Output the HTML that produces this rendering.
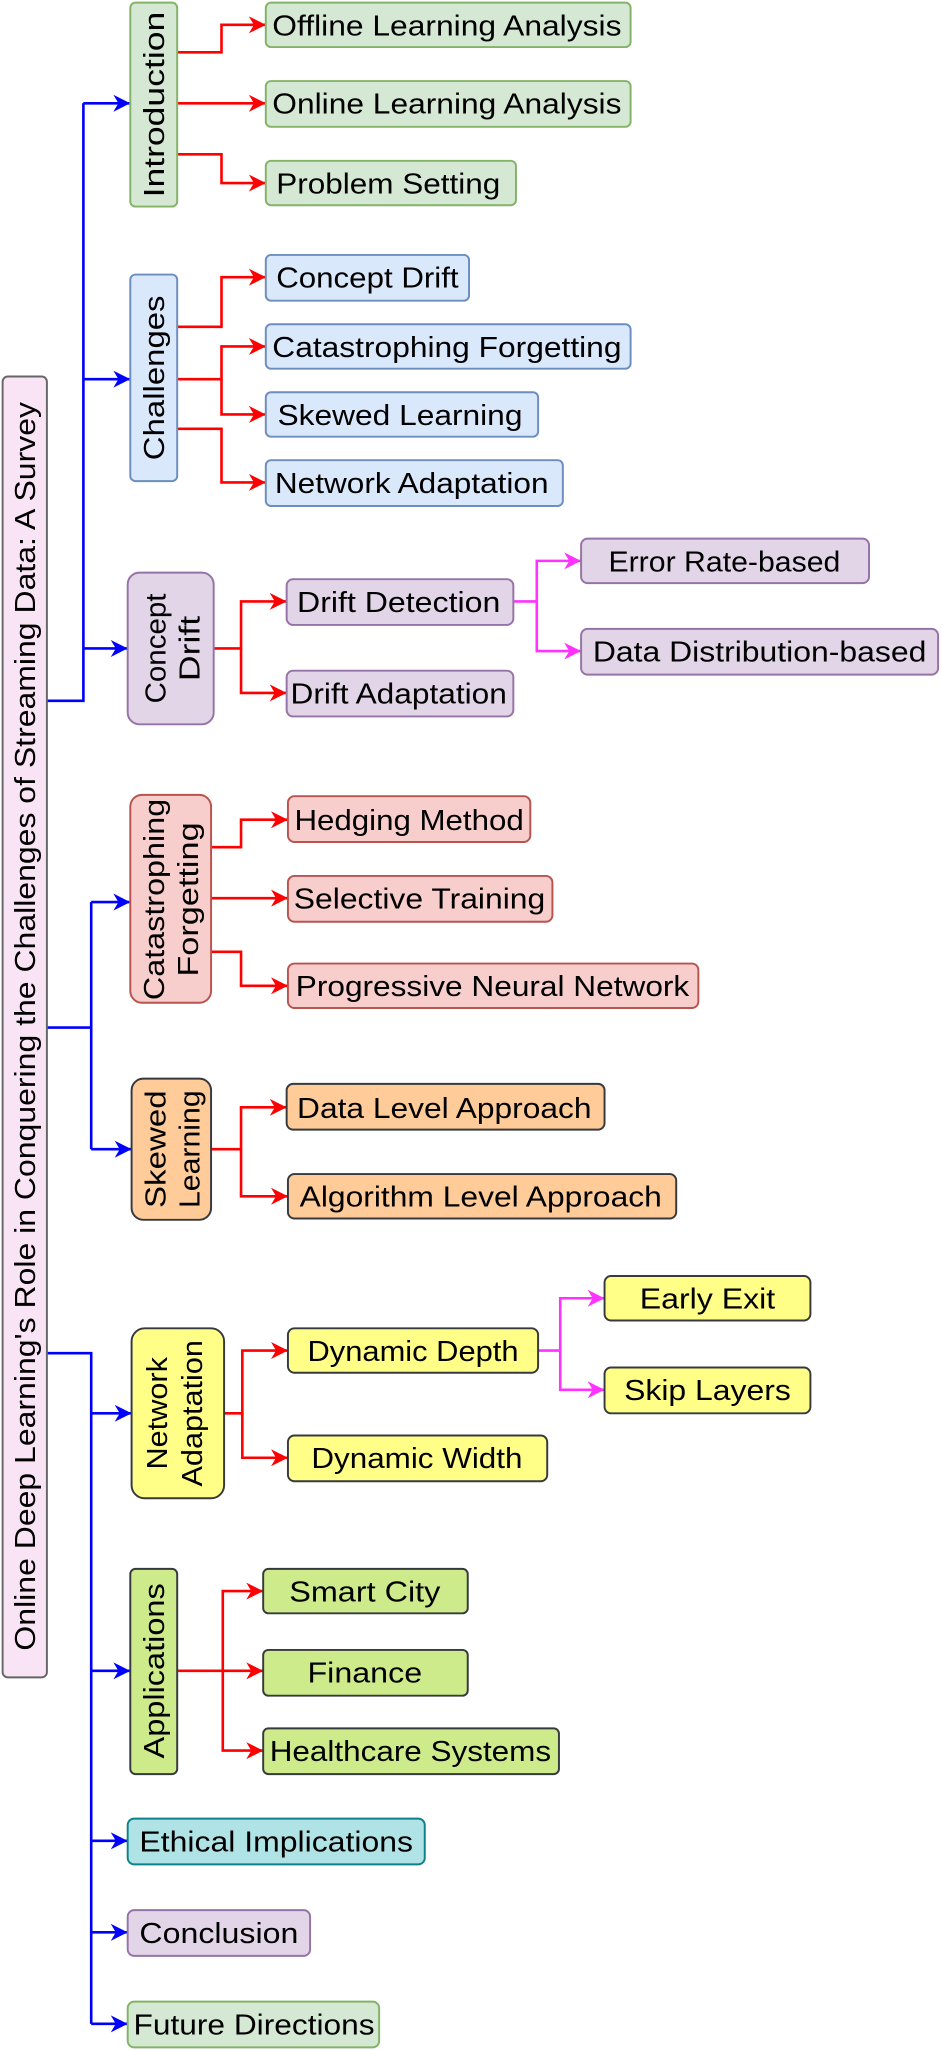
<!DOCTYPE html>
<html><head><meta charset="utf-8"><style>
html,body{margin:0;padding:0;background:#fff;}
svg{display:block;}
text{font-family:"Liberation Sans",Arial,sans-serif;font-size:22px;fill:#000;}
</style></head><body>
<svg width="942" height="2050" viewBox="0 0 723 1568" preserveAspectRatio="none" xmlns="http://www.w3.org/2000/svg">
<defs>
<marker id="ab" viewBox="0 0 10 10" refX="10" refY="5" markerWidth="13" markerHeight="13" markerUnits="userSpaceOnUse" orient="auto"><path d="M0,0 L10,5 L0,10 L3,5 Z" fill="#0000ff"/></marker>
<marker id="ar" viewBox="0 0 10 10" refX="10" refY="5" markerWidth="13" markerHeight="13" markerUnits="userSpaceOnUse" orient="auto"><path d="M0,0 L10,5 L0,10 L3,5 Z" fill="#ff0000"/></marker>
<marker id="am" viewBox="0 0 10 10" refX="10" refY="5" markerWidth="13" markerHeight="13" markerUnits="userSpaceOnUse" orient="auto"><path d="M0,0 L10,5 L0,10 L3,5 Z" fill="#ff33ff"/></marker>
</defs>
<g fill="none" stroke-width="2">
<g stroke="#0000ff">
<path d="M36,536 H64 V79"/>
<path d="M64,79 H100" marker-end="url(#ab)"/>
<path d="M64,290 H100" marker-end="url(#ab)"/>
<path d="M64,496 H98" marker-end="url(#ab)"/>
<path d="M36,786 H70 V690"/><path d="M70,786 V879"/>
<path d="M70,690 H100" marker-end="url(#ab)"/>
<path d="M70,879 H101" marker-end="url(#ab)"/>
<path d="M36,1035 H70 V1548"/>
<path d="M70,1081 H101" marker-end="url(#ab)"/>
<path d="M70,1278 H100" marker-end="url(#ab)"/>
<path d="M70,1408 H98" marker-end="url(#ab)"/>
<path d="M70,1478 H98" marker-end="url(#ab)"/>
<path d="M70,1548 H98" marker-end="url(#ab)"/>
</g>
<g stroke="#ff0000">
<path d="M136,40 H170 V19 H204" marker-end="url(#ar)"/>
<path d="M136,79 H204" marker-end="url(#ar)"/>
<path d="M136,118 H170 V140 H204" marker-end="url(#ar)"/>
<path d="M136,250 H170 V212 H204" marker-end="url(#ar)"/>
<path d="M136,290 H170 V265 H204" marker-end="url(#ar)"/>
<path d="M170,290 V317 H204" marker-end="url(#ar)"/>
<path d="M136,328 H170 V369 H204" marker-end="url(#ar)"/>
<path d="M164,496 H185 V460 H220" marker-end="url(#ar)"/>
<path d="M185,496 V530 H220" marker-end="url(#ar)"/>
<path d="M162,648 H185 V627 H221" marker-end="url(#ar)"/>
<path d="M162,687 H221" marker-end="url(#ar)"/>
<path d="M162,728 H185 V754 H221" marker-end="url(#ar)"/>
<path d="M162,879 H185 V847 H220" marker-end="url(#ar)"/>
<path d="M185,879 V915 H221" marker-end="url(#ar)"/>
<path d="M172,1081 H186 V1033 H221" marker-end="url(#ar)"/>
<path d="M186,1081 V1115 H221" marker-end="url(#ar)"/>
<path d="M136,1278 H202" marker-end="url(#ar)"/>
<path d="M171,1278 V1217 H202" marker-end="url(#ar)"/>
<path d="M171,1278 V1339 H202" marker-end="url(#ar)"/>
</g>
<g stroke="#ff33ff">
<path d="M394,460 H412 V429 H446" marker-end="url(#am)"/>
<path d="M412,460 V498 H446" marker-end="url(#am)"/>
<path d="M413,1033 H430 V993 H464" marker-end="url(#am)"/>
<path d="M430,1033 V1063 H464" marker-end="url(#am)"/>
</g>
</g>
<g stroke-width="1.5">
<rect x="2" y="288" width="34" height="995" rx="4" fill="#f9e4f6" stroke="#666666"/>
<rect x="100" y="2" width="36" height="156" rx="4" fill="#d5e8d4" stroke="#82b366"/>
<rect x="204" y="2" width="280" height="34" rx="4" fill="#d5e8d4" stroke="#82b366"/>
<rect x="204" y="62" width="280" height="35" rx="4" fill="#d5e8d4" stroke="#82b366"/>
<rect x="204" y="123" width="192" height="34" rx="4" fill="#d5e8d4" stroke="#82b366"/>
<rect x="100" y="210" width="36" height="158" rx="4" fill="#dae8fc" stroke="#6c8ebf"/>
<rect x="204" y="195" width="156" height="35" rx="4" fill="#dae8fc" stroke="#6c8ebf"/>
<rect x="204" y="248" width="280" height="34" rx="4" fill="#dae8fc" stroke="#6c8ebf"/>
<rect x="204" y="300" width="209" height="34" rx="4" fill="#dae8fc" stroke="#6c8ebf"/>
<rect x="204" y="352" width="228" height="35" rx="4" fill="#dae8fc" stroke="#6c8ebf"/>
<rect x="98" y="438" width="66" height="116" rx="9" fill="#e1d5e7" stroke="#9673a6"/>
<rect x="220" y="443" width="174" height="35" rx="5" fill="#e1d5e7" stroke="#9673a6"/>
<rect x="220" y="513" width="174" height="35" rx="5" fill="#e1d5e7" stroke="#9673a6"/>
<rect x="446" y="412" width="221" height="34" rx="5" fill="#e1d5e7" stroke="#9673a6"/>
<rect x="446" y="481" width="274" height="35" rx="5" fill="#e1d5e7" stroke="#9673a6"/>
<rect x="100" y="608" width="62" height="159" rx="9" fill="#f8cecc" stroke="#b85450"/>
<rect x="221" y="609" width="186" height="35" rx="5" fill="#f8cecc" stroke="#b85450"/>
<rect x="221" y="670" width="203" height="35" rx="5" fill="#f8cecc" stroke="#b85450"/>
<rect x="221" y="737" width="315" height="34" rx="5" fill="#f8cecc" stroke="#b85450"/>
<rect x="101" y="825" width="61" height="108" rx="9" fill="#ffcc99" stroke="#36393d"/>
<rect x="220" y="829" width="244" height="35" rx="5" fill="#ffcc99" stroke="#36393d"/>
<rect x="221" y="898" width="298" height="34" rx="5" fill="#ffcc99" stroke="#36393d"/>
<rect x="101" y="1016" width="71" height="130" rx="10" fill="#ffff88" stroke="#36393d"/>
<rect x="221" y="1016" width="192" height="34" rx="5" fill="#ffff88" stroke="#36393d"/>
<rect x="221" y="1098" width="199" height="35" rx="5" fill="#ffff88" stroke="#36393d"/>
<rect x="464" y="976" width="158" height="34" rx="5" fill="#ffff88" stroke="#36393d"/>
<rect x="464" y="1046" width="158" height="35" rx="5" fill="#ffff88" stroke="#36393d"/>
<rect x="100" y="1200" width="36" height="157" rx="4" fill="#cdeb8b" stroke="#36393d"/>
<rect x="202" y="1200" width="157" height="34" rx="4" fill="#cdeb8b" stroke="#36393d"/>
<rect x="202" y="1262" width="157" height="35" rx="4" fill="#cdeb8b" stroke="#36393d"/>
<rect x="202" y="1322" width="227" height="35" rx="4" fill="#cdeb8b" stroke="#36393d"/>
<rect x="98" y="1391" width="228" height="35" rx="5" fill="#b0e3e6" stroke="#0e8088"/>
<rect x="98" y="1461" width="140" height="35" rx="5" fill="#e1d5e7" stroke="#9673a6"/>
<rect x="98" y="1531" width="193" height="35" rx="5" fill="#d5e8d4" stroke="#82b366"/>
</g>
<g text-anchor="middle">
<text transform="translate(27,785) rotate(-90)" textLength="955" lengthAdjust="spacingAndGlyphs">Online Deep Learning's Role in Conquering the Challenges of Streaming Data: A Survey</text>
<text transform="translate(126,80) rotate(-90)" textLength="142" lengthAdjust="spacingAndGlyphs">Introduction</text>
<text transform="translate(126,289) rotate(-90)" textLength="126" lengthAdjust="spacingAndGlyphs">Challenges</text>
<text transform="translate(127,496) rotate(-90)" textLength="84" lengthAdjust="spacingAndGlyphs">Concept</text>
<text transform="translate(153,496) rotate(-90)" textLength="50" lengthAdjust="spacingAndGlyphs">Drift</text>
<text transform="translate(126,688) rotate(-90)" textLength="154" lengthAdjust="spacingAndGlyphs">Catastrophing</text>
<text transform="translate(152,688) rotate(-90)" textLength="118" lengthAdjust="spacingAndGlyphs">Forgetting</text>
<text transform="translate(127,879) rotate(-90)" textLength="90" lengthAdjust="spacingAndGlyphs">Skewed</text>
<text transform="translate(153,879) rotate(-90)" textLength="90" lengthAdjust="spacingAndGlyphs">Learning</text>
<text transform="translate(128,1081) rotate(-90)" textLength="86" lengthAdjust="spacingAndGlyphs">Network</text>
<text transform="translate(155,1081) rotate(-90)" textLength="112" lengthAdjust="spacingAndGlyphs">Adaptation</text>
<text transform="translate(126,1278) rotate(-90)" textLength="134" lengthAdjust="spacingAndGlyphs">Applications</text>

<text x="343" y="27" textLength="268" lengthAdjust="spacingAndGlyphs">Offline Learning Analysis</text>
<text x="343" y="87" textLength="268" lengthAdjust="spacingAndGlyphs">Online Learning Analysis</text>
<text x="298" y="148" textLength="172" lengthAdjust="spacingAndGlyphs">Problem Setting</text>
<text x="282" y="220" textLength="140" lengthAdjust="spacingAndGlyphs">Concept Drift</text>
<text x="343" y="273" textLength="268" lengthAdjust="spacingAndGlyphs">Catastrophing Forgetting</text>
<text x="307" y="325" textLength="188" lengthAdjust="spacingAndGlyphs">Skewed Learning</text>
<text x="316" y="377" textLength="210" lengthAdjust="spacingAndGlyphs">Network Adaptation</text>
<text x="306" y="468" textLength="156" lengthAdjust="spacingAndGlyphs">Drift Detection</text>
<text x="306" y="538" textLength="166" lengthAdjust="spacingAndGlyphs">Drift Adaptation</text>
<text x="556" y="437" textLength="178" lengthAdjust="spacingAndGlyphs">Error Rate-based</text>
<text x="583" y="506" textLength="256" lengthAdjust="spacingAndGlyphs">Data Distribution-based</text>
<text x="314" y="635" textLength="176" lengthAdjust="spacingAndGlyphs">Hedging Method</text>
<text x="322" y="695" textLength="193" lengthAdjust="spacingAndGlyphs">Selective Training</text>
<text x="378" y="762" textLength="302" lengthAdjust="spacingAndGlyphs">Progressive Neural Network</text>
<text x="341" y="855" textLength="226" lengthAdjust="spacingAndGlyphs">Data Level Approach</text>
<text x="369" y="923" textLength="278" lengthAdjust="spacingAndGlyphs">Algorithm Level Approach</text>
<text x="317" y="1041" textLength="162" lengthAdjust="spacingAndGlyphs">Dynamic Depth</text>
<text x="320" y="1123" textLength="162" lengthAdjust="spacingAndGlyphs">Dynamic Width</text>
<text x="543" y="1001" textLength="104" lengthAdjust="spacingAndGlyphs">Early Exit</text>
<text x="543" y="1071" textLength="128" lengthAdjust="spacingAndGlyphs">Skip Layers</text>
<text x="280" y="1225" textLength="116" lengthAdjust="spacingAndGlyphs">Smart City</text>
<text x="280" y="1287" textLength="88" lengthAdjust="spacingAndGlyphs">Finance</text>
<text x="315" y="1347" textLength="216" lengthAdjust="spacingAndGlyphs">Healthcare Systems</text>
<text x="212" y="1416" textLength="210" lengthAdjust="spacingAndGlyphs">Ethical Implications</text>
<text x="168" y="1486" textLength="122" lengthAdjust="spacingAndGlyphs">Conclusion</text>
<text x="195" y="1556" textLength="185" lengthAdjust="spacingAndGlyphs">Future Directions</text>
</g>
</svg>
</body></html>
